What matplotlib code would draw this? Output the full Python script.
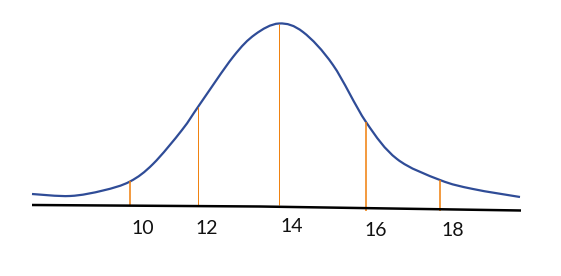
import numpy as np
import matplotlib.pyplot as plt
from matplotlib.path import Path
from matplotlib.patches import PathPatch

# curve (x, height in picture units, y grows downward)
curve_x = [32, 70, 103, 130, 153, 182, 200, 233, 255, 279, 303, 333, 366, 397, 440, 473, 520]
curve_y = [194, 196, 190.5, 181.5, 164, 130, 104, 57, 34.5, 23.5, 32, 65, 122, 159, 180, 189, 197]

base_x = [32, 260, 521]
base_y = [205, 206.5, 210.5]

mark_x = [130, 198, 279, 366, 440]
mark_top = [181, 107, 24, 122, 180]
mark_bot = [205, 205, 205, 211, 211]
mark_lw = [1.1, 0.7, 0.7, 1.1, 1.1]

labels = ['10', '12', '14', '16', '18']
label_x = [143, 207, 292, 376, 453]
label_y = [229, 229, 226, 230, 230]


def smooth_path(xs, ys):
    # Catmull-Rom through the traced points, drawn as cubic Bezier segments
    p = np.column_stack([xs, ys]).astype(float)
    p = np.vstack([p[0], p, p[-1]])
    verts = [p[1]]
    codes = [Path.MOVETO]
    for i in range(1, len(p) - 2):
        c1 = p[i] + (p[i + 1] - p[i - 1]) / 6
        c2 = p[i + 1] - (p[i + 2] - p[i]) / 6
        verts += [c1, c2, p[i + 1]]
        codes += [Path.CURVE4] * 3
    return Path(verts, codes)


fig = plt.figure(figsize=(5.61, 2.76), dpi=100)
ax = fig.add_axes([0, 0, 1, 1])

for x, t, b, lw in zip(mark_x, mark_top, mark_bot, mark_lw):
    ax.plot([x, x], [t, b], color='#F07E0A', lw=lw, solid_capstyle='butt')

ax.plot(base_x, base_y, color='k', lw=1.8, solid_capstyle='butt')
ax.add_patch(PathPatch(smooth_path(curve_x, curve_y), fc='none', ec='#2F4C97', lw=1.6))

for s, x, y in zip(labels, label_x, label_y):
    ax.text(x, y, s, ha='center', va='center', fontsize=14, family='Lato', color='#111111')

ax.set_xlim(0, 561)
ax.set_ylim(276, 0)
ax.axis('off')

fig.savefig('out.png', dpi=100)
